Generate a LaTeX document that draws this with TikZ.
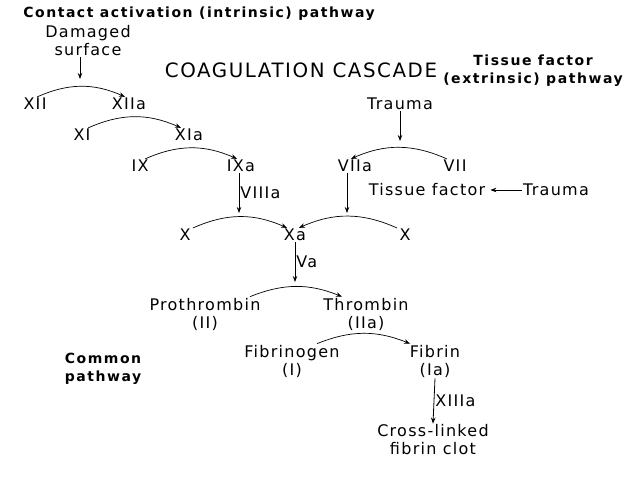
\documentclass[tikz,border=0pt]{standalone}
\usepackage{fontspec}
\setmainfont{DejaVu Sans}[LetterSpace=11]
\newfontfamily\factorfont{DejaVu Sans}[LetterSpace=8]
\usetikzlibrary{arrows.meta,positioning}

\tikzset{
  factor/.style={inner sep=1pt, align=center,
                 font=\factorfont\fontsize{16}{18}\selectfont},
  heading/.style={inner sep=1pt, align=center,
                  font=\fontsize{14}{18}\selectfont\bfseries},
  cascade/.style={-{Stealth[length=6pt,width=4.5pt]}, line width=0.8pt},
  convert/.style={-{Stealth[length=6pt,width=4.5pt]}, line width=0.7pt}
}

\begin{document}
\begin{tikzpicture}[x=1pt,y=-1pt]
  \useasboundingbox (0,0) rectangle (638,478);

  %% headings
  \node[heading] (intr) at (199,14) {Contact activation (intrinsic) pathway};
  \node[inner sep=1pt, font=\factorfont\fontsize{19.8}{22}\selectfont]
    (title) at (301,70) {COAGULATION CASCADE};
  \node[heading] (extr) at (533,71) {Tissue factor\\(extrinsic) pathway};
  \node[heading] (comm) at (103,369) {Common\\pathway};

  %% intrinsic pathway
  \node[factor] (dmg) at (88,41) {Damaged\\surface};
  \coordinate (dmgend) at (80,79);
  \draw[cascade] (dmg.south -| dmgend) -- (dmgend);

  \node[factor] (xii)  at (35,104)  {XII};
  \node[factor] (xiia) at (129,104) {XIIa};
  \draw[convert] ([xshift=2pt]xii.north) to[bend left=24] ([xshift=-4pt]xiia.north);

  \node[factor] (xi)  at (82,135)  {XI};
  \node[factor] (xia) at (189,135) {XIa};
  \draw[convert] ([xshift=6pt]xi.north) to[bend left=24] ([xshift=-8pt]xia.north);

  \node[factor] (ix)  at (140,166) {IX};
  \node[factor] (ixa) at (241,166) {IXa};
  \draw[convert] ([xshift=5pt]ix.north) to[bend left=24] ([xshift=-4pt]ixa.north);

  %% extrinsic pathway
  \node[factor] (trauma) at (400,104) {Trauma};
  \coordinate (traumaend) at (400,141);
  \draw[cascade] (trauma.south) -- (traumaend);

  \node[factor] (viia) at (355,166) {VIIa};
  \node[factor] (vii)  at (455,166) {VII};
  \draw[convert] ([xshift=-8pt]vii.north) to[bend right=24] ([xshift=-4pt]viia.north);

  \node[factor] (tf)      at (427,190) {Tissue factor};
  \node[factor] (trauma2) at (556,190) {Trauma};
  \draw[convert] (trauma2.west) -- ([xshift=4pt]tf.east);

  %% factor X activation
  \node[factor] (xl)  at (185,235) {X};
  \node[factor] (xa)  at (295,235) {Xa};
  \node[factor] (xr)  at (405,235) {X};
  \draw[convert] ([xshift=8pt]xl.north) to[bend left=24] ([xshift=-8pt]xa.north);
  \draw[convert] ([xshift=-8pt]xr.north) to[bend right=24] ([xshift=4pt]xa.north);

  \coordinate (viiiaend) at (239,213);
  \draw[cascade] (ixa.south -| viiiaend) -- (viiiaend)
    node[midway, right, factor] {VIIIa};
  \coordinate (tfend) at (347,213);
  \draw[cascade] (viia.south -| tfend) -- (tfend);

  %% common pathway
  \node[factor] (prothr) at (205,314) {Prothrombin\\(II)};
  \node[factor] (thr)    at (366,314) {Thrombin\\(IIa)};
  \draw[convert] ([xshift=45pt]prothr.north) to[bend left=22] ([xshift=-24pt]thr.north);

  \coordinate (vaend) at (295,282);
  \draw[cascade] (xa.south) -- (vaend)
    node[midway, right, factor] {Va};

  \node[factor] (fibg) at (292,361) {Fibrinogen\\(I)};
  \node[factor] (fib)  at (435,361) {Fibrin\\(Ia)};
  \draw[convert] ([xshift=25pt]fibg.north) to[bend left=22] ([xshift=-25pt]fib.north);

  \node[factor] (clot) at (433,440) {Cross-linked\\fibrin clot};
  \draw[cascade] (fib.south) -- (clot.north)
    node[midway, right, factor] {XIIIa};
\end{tikzpicture}
\end{document}
